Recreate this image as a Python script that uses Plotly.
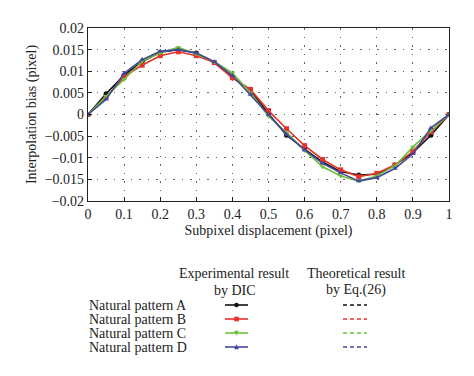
import plotly.graph_objects as go

x_disp = [0, 0.05, 0.1, 0.15, 0.2, 0.25, 0.3, 0.35, 0.4, 0.45, 0.5,
          0.55, 0.6, 0.65, 0.7, 0.75, 0.8, 0.85, 0.9, 0.95, 1.0]

bias_A = [0, 0.0048, 0.0091, 0.0122, 0.0144, 0.0150, 0.0142, 0.0120, 0.0086, 0.0056, 0.0002,
          -0.0048, -0.0080, -0.0110, -0.0132, -0.0140, -0.0138, -0.0117, -0.0088, -0.0048, 0]
bias_B = [0, 0.0040, 0.0087, 0.0114, 0.0136, 0.0145, 0.0136, 0.0120, 0.0085, 0.0058, 0.0009,
          -0.0033, -0.0072, -0.0104, -0.0128, -0.0144, -0.0136, -0.0117, -0.0085, -0.0040, 0]
bias_C = [0, 0.0042, 0.0081, 0.0123, 0.0142, 0.0155, 0.0140, 0.0122, 0.0096, 0.0050, -0.0004,
          -0.0042, -0.0083, -0.0121, -0.0142, -0.0154, -0.0142, -0.0119, -0.0075, -0.0037, 0]
bias_D = [0, 0.0035, 0.0095, 0.0127, 0.0146, 0.0150, 0.0142, 0.0122, 0.0090, 0.0046, 0.0000,
          -0.0046, -0.0082, -0.0113, -0.0135, -0.0154, -0.0146, -0.0125, -0.0091, -0.0031, 0]

series_names = ["Natural pattern A", "Natural pattern B", "Natural pattern C", "Natural pattern D"]
series_values = [bias_A, bias_B, bias_C, bias_D]
colors = ["#111111", "#e8322b", "#6cc03a", "#45479a"]
symbols = ["circle", "square", "triangle-down", "triangle-up"]

x_ticks = [0, 0.1, 0.2, 0.3, 0.4, 0.5, 0.6, 0.7, 0.8, 0.9, 1]
x_ticklabels = ["0", "0.1", "0.2", "0.3", "0.4", "0.5", "0.6", "0.7", "0.8", "0.9", "1"]
y_ticks = [-0.02, -0.015, -0.01, -0.005, 0, 0.005, 0.01, 0.015, 0.02]
y_ticklabels = ["\u22120.02", "\u22120.015", "\u22120.01", "\u22120.005", "0",
                "0.005", "0.01", "0.015", "0.02"]

FONT = "Liberation Serif, Times New Roman, serif"
W, H = 474, 376
L, R, T, B = 88, 25, 28, 175
PW, PH = W - L - R, H - T - B

def px(xp):
    return (xp - L) / PW

def py(yp):
    return (H - B - yp) / PH

fig = go.Figure()
for name, vals, c, s in zip(series_names, series_values, colors, symbols):
    fig.add_trace(go.Scatter(x=x_disp, y=vals, mode="lines+markers", name=name,
                             line=dict(color=c, width=1.6),
                             marker=dict(color=c, symbol=s, size=5),
                             showlegend=False))

axis_common = dict(showline=True, linecolor="#222", linewidth=1.2, mirror=True,
                   ticks="inside", ticklen=4, tickcolor="#222",
                   showgrid=True, gridcolor="#666", griddash="1.5px,7px", gridwidth=1.4,
                   zeroline=False, tickfont=dict(family=FONT, size=14, color="#222"))

fig.update_xaxes(range=[0, 1], tickvals=x_ticks, ticktext=x_ticklabels,
                 title=dict(text="Subpixel displacement (pixel)", standoff=4,
                            font=dict(family=FONT, size=14, color="#222")),
                 **axis_common)
fig.update_yaxes(range=[-0.02, 0.02], tickvals=y_ticks, ticktext=y_ticklabels,
                 title=dict(text="Interpolation bias (pixel)", standoff=4,
                            font=dict(family=FONT, size=14, color="#222")),
                 **axis_common)

shapes = []
annotations = []
lf = dict(family=FONT, size=14, color="#222")
annotations.append(dict(x=px(234), y=py(273), xref="paper", yref="paper", text="Experimental result",
                        showarrow=False, font=lf, xanchor="center", yanchor="middle"))
annotations.append(dict(x=px(235), y=py(290), xref="paper", yref="paper", text="by DIC",
                        showarrow=False, font=lf, xanchor="center", yanchor="middle"))
annotations.append(dict(x=px(356), y=py(273), xref="paper", yref="paper", text="Theoretical result",
                        showarrow=False, font=lf, xanchor="center", yanchor="middle"))
annotations.append(dict(x=px(356), y=py(290), xref="paper", yref="paper", text="by Eq.(26)",
                        showarrow=False, font=lf, xanchor="center", yanchor="middle"))
row_y = [305, 319, 333, 347]
for name, c, s, yy in zip(series_names, colors, symbols, row_y):
    annotations.append(dict(x=px(87), y=py(yy), xref="paper", yref="paper", text=name,
                            showarrow=False, font=lf, xanchor="left", yanchor="middle"))
    shapes.append(dict(type="line", xref="paper", yref="paper", x0=px(225), x1=px(248),
                       y0=py(yy), y1=py(yy), line=dict(color=c, width=1.6)))
    shapes.append(dict(type="line", xref="paper", yref="paper", x0=px(343), x1=px(367),
                       y0=py(yy), y1=py(yy), line=dict(color=c, width=1.6, dash="4px,3px")))
    cx, cy, r = 236.5, yy, 2.3
    if s == "circle" or s == "square":
        shapes.append(dict(type="circle" if s == "circle" else "rect", xref="paper", yref="paper",
                           x0=px(cx - r), x1=px(cx + r), y0=py(cy - r), y1=py(cy + r),
                           fillcolor=c, line=dict(color=c, width=0)))
    else:
        if s == "triangle-up":
            pts = [(cx, cy - r - 0.5), (cx - r, cy + r), (cx + r, cy + r)]
        else:
            pts = [(cx, cy + r + 0.5), (cx - r, cy - r), (cx + r, cy - r)]
        path = "M " + " L ".join(f"{px(a)},{py(b)}" for a, b in pts) + " Z"
        shapes.append(dict(type="path", xref="paper", yref="paper", path=path,
                           fillcolor=c, line=dict(color=c, width=0)))

fig.update_layout(width=W, height=H, margin=dict(l=L, r=R, t=T, b=B),
                  paper_bgcolor="white", plot_bgcolor="white",
                  shapes=shapes, annotations=annotations,
                  font=dict(family=FONT, color="#222"))

fig.write_html("out.html", config={"displayModeBar": False},
               post_script="document.body.style.margin='0';document.body.style.overflow='hidden';")
